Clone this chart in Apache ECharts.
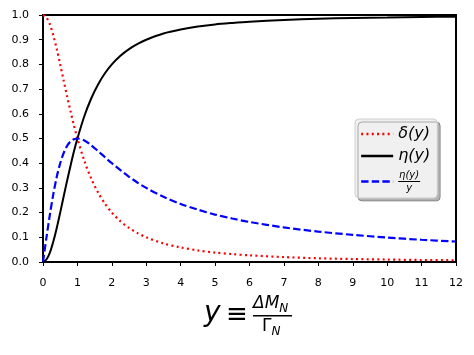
<!DOCTYPE html>
<html><head><meta charset="utf-8">
<script src="https://cdn.jsdelivr.net/npm/echarts@6/dist/echarts.min.js"></script>
<style>html,body{margin:0;padding:0;background:#fff}#c{width:474px;height:355px}</style>
</head><body><div id="c"></div>
<script>
var xs = [0, 0.1, 0.2, 0.3, 0.4, 0.5, 0.6, 0.7, 0.8, 0.9, 1.0, 1.2, 1.4, 1.6, 1.8, 2.0, 2.25, 2.5, 2.75, 3, 3.5, 4, 4.5, 5, 5.5, 6, 7, 8, 9, 10, 11, 12];
var deltaVals = [1.0, 0.99, 0.962, 0.917, 0.862, 0.8, 0.735, 0.671, 0.61, 0.552, 0.5, 0.41, 0.338, 0.281, 0.236, 0.2, 0.165, 0.138, 0.117, 0.1, 0.075, 0.059, 0.047, 0.038, 0.032, 0.027, 0.02, 0.015, 0.012, 0.01, 0.008, 0.007];
var etaVals = [0, 0.01, 0.038, 0.083, 0.138, 0.2, 0.265, 0.329, 0.39, 0.448, 0.5, 0.59, 0.662, 0.719, 0.764, 0.8, 0.835, 0.862, 0.883, 0.9, 0.925, 0.941, 0.953, 0.962, 0.968, 0.973, 0.98, 0.985, 0.988, 0.99, 0.992, 0.993];
var ratioVals = [0, 0.099, 0.192, 0.275, 0.345, 0.4, 0.441, 0.47, 0.488, 0.497, 0.5, 0.492, 0.473, 0.449, 0.424, 0.4, 0.372, 0.345, 0.321, 0.3, 0.264, 0.235, 0.212, 0.192, 0.176, 0.162, 0.14, 0.123, 0.110, 0.099, 0.09, 0.083];
var seriesNames = ['δ(y)', 'η(y)', 'η(y)/y'];

function pairs(v){ return xs.map(function(x,i){ return [x, v[i]]; }); }
var F = 'DejaVu Sans';
var chart = echarts.init(document.getElementById('c'));
chart.setOption({
  animation: false,
  grid: {left: 43, right: 18, top: 15, bottom: 93, show: true, borderColor: '#000', borderWidth: 2, backgroundColor: 'transparent'},
  xAxis: {type: 'value', min: 0, max: 12, interval: 1,
    axisLine: {show: true, onZero: false, lineStyle: {color: '#000', width: 2}},
    axisTick: {show: true, inside: false, length: 4, lineStyle: {color: '#000', width: 1}},
    axisLabel: {color: '#000', fontFamily: F, fontSize: 11, margin: 8,
      formatter: function(v){ return '{v|' + v + '}'; },
      rich: {v: {fontFamily: F, fontSize: 11, color: '#000', padding: [8, 0, 0, 0]}}},
    splitLine: {show: false}},
  yAxis: {type: 'value', min: 0, max: 1, interval: 0.1,
    axisLine: {show: true, lineStyle: {color: '#000', width: 2}},
    axisTick: {show: true, inside: false, length: 4, lineStyle: {color: '#000', width: 1}},
    axisLabel: {color: '#000', fontFamily: F, fontSize: 11, margin: 8,
      formatter: function(v){ return '{v|' + v.toFixed(1) + '}'; },
      rich: {v: {fontFamily: F, fontSize: 11, color: '#000', padding: [0, 6, 0, 0]}}},
    splitLine: {show: false}},
  legend: {
    orient: 'vertical', left: 355, top: 119, itemWidth: 32, itemHeight: 14, itemGap: 6,
    padding: [7, 7, 5, 5],
    backgroundColor: '#f0f0f0', borderColor: '#cfcfcf', borderWidth: 1, borderRadius: 4,
    shadowBlur: 0, shadowColor: 'rgba(0,0,0,0.3)', shadowOffsetX: 3, shadowOffsetY: 3,
    data: seriesNames,
    itemStyle: {color: 'transparent', borderWidth: 0, opacity: 0},
    lineStyle: {width: 2.3},
    textStyle: {fontFamily: F, fontStyle: 'italic', fontSize: 16, color: '#000',
      rich: {
        n: {fontFamily: F, fontStyle: 'italic', fontSize: 10, color: '#000', align: 'center', width: 22, lineHeight: 11},
        bar: {width: 22, height: 1, backgroundColor: '#000', lineHeight: 2},
        d: {fontFamily: F, fontStyle: 'italic', fontSize: 10, color: '#000', align: 'center', width: 22, lineHeight: 11}
      }},
    formatter: function(name){
      if (name === seriesNames[2]) return '{n|η(y)}\n{bar|}\n{d|y}';
      return name;
    }
  },
  series: [
    {name: seriesNames[0], type: 'line', data: pairs(deltaVals), smooth: 0.3, showSymbol: false, symbol: 'none',
      lineStyle: {color: '#ff0000', width: 2.2, type: [2, 3.3]}, itemStyle: {color: '#ff0000'}},
    {name: seriesNames[1], type: 'line', data: pairs(etaVals), smooth: 0.3, showSymbol: false, symbol: 'none',
      lineStyle: {color: '#000000', width: 2}, itemStyle: {color: '#000'}},
    {name: seriesNames[2], type: 'line', data: pairs(ratioVals), smooth: 0.3, showSymbol: false, symbol: 'none',
      lineStyle: {color: '#0000ff', width: 2.2, type: [7.4, 3.2]}, itemStyle: {color: '#0000ff'}}
  ],
  graphic: [
    {type: 'text', left: 204, top: 300, style: {text: 'y', font: 'italic 28px "DejaVu Sans"', fill: '#000'}},
    {type: 'text', left: 226, top: 302, style: {text: '≡', font: '26px "DejaVu Sans"', fill: '#000'}},
    {type: 'text', left: 253, top: 295, style: {text: '{a|ΔM}{s|N}', rich: {a: {font: 'italic 17px "DejaVu Sans"', fill: '#000', verticalAlign: 'bottom'}, s: {font: 'italic 12px "DejaVu Sans"', fill: '#000', verticalAlign: 'bottom', padding: [0,0,-3,0]}}}},
    {type: 'rect', shape: {x: 253, y: 315, width: 39, height: 1.5}, style: {fill: '#000'}},
    {type: 'text', left: 262, top: 318, style: {text: '{a|Γ}{s|N}', rich: {a: {font: '17px "DejaVu Sans"', fill: '#000', verticalAlign: 'bottom'}, s: {font: 'italic 12px "DejaVu Sans"', fill: '#000', verticalAlign: 'bottom', padding: [0,0,-3,0]}}}}
  ]
});
</script></body></html>
